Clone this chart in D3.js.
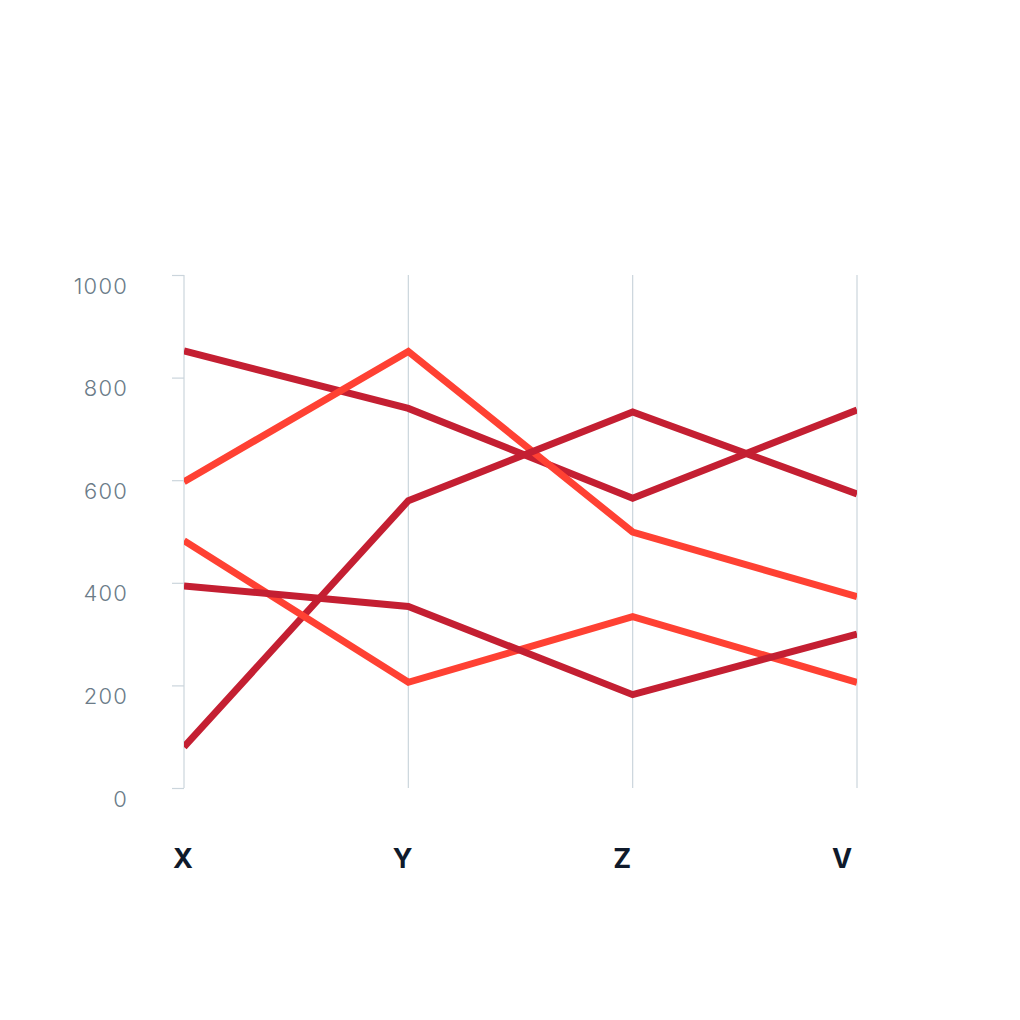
<!DOCTYPE html>
<html>
<head>
<meta charset="utf-8">
<script src="https://cdn.jsdelivr.net/npm/d3@7"></script>
<style>
  body { margin: 0; background: #fff; }
</style>
</head>
<body>
<div id="chart-container"></div>
<script>
// Data
const categories = ["X", "Y", "Z", "V"];
const yTicks = [0, 200, 400, 600, 800, 1000];
const seriesA = [852, 740, 565, 737];
const seriesB = [597, 851, 499, 373];
const seriesC = [80, 560, 733, 573];
const seriesD = [482, 206, 334, 206];
const seriesE = [394, 354, 182, 300];
const series = [
  { values: seriesA, color: "#c41f32" },
  { values: seriesB, color: "#ff4133" },
  { values: seriesC, color: "#c41f32" },
  { values: seriesD, color: "#ff4133" },
  { values: seriesE, color: "#c41f32" }
];

(() => {
  const width = 1020, height = 1020;
  const margin = { top: 275, right: 163, bottom: 232, left: 184 };
  const innerW = width - margin.left - margin.right;
  const innerH = height - margin.top - margin.bottom;

  const svg = d3.select("#chart-container")
    .append("svg")
    .attr("width", width)
    .attr("height", height)
    .append("g")
    .attr("transform", `translate(${margin.left},${margin.top})`);

  // scales
  const x = d3.scalePoint().domain(categories).range([0, innerW]);
  const y = d3.scaleLinear().domain([0, 1000]).range([innerH, 0]);
  // category labels sit a bit inside the axes
  const xLabel = d3.scalePoint().domain(categories).range([-1, innerW - 15]);

  // vertical axis lines
  svg.selectAll(".axis-line")
    .data(categories)
    .enter().append("line")
    .attr("class", "axis-line")
    .attr("x1", d => x(d)).attr("x2", d => x(d))
    .attr("y1", 0).attr("y2", innerH)
    .attr("stroke", "#cbd5dc")
    .attr("stroke-width", 1.2);

  // left axis with ticks
  const yAxis = d3.axisLeft(y)
    .tickValues(yTicks)
    .tickFormat(d3.format("d"))
    .tickSize(12)
    .tickPadding(44);

  const gy = svg.append("g").call(yAxis);
  gy.select(".domain").remove();
  gy.selectAll(".tick line").attr("stroke", "#cbd5dc").attr("stroke-width", 1.2);
  gy.selectAll(".tick text")
    .attr("dy", "0.82em")
    .attr("fill", "#6b7b88")
    .style("font-family", "Inter, 'Noto Sans', sans-serif")
    .style("font-weight", "300")
    .style("font-size", "22px")
    .style("letter-spacing", "1.2px");

  // clip lines to the axes band
  svg.append("clipPath").attr("id", "clip")
    .append("rect")
    .attr("x", 0).attr("y", -20)
    .attr("width", innerW).attr("height", innerH + 40);

  const line = d3.line()
    .x((d, i) => x(categories[i]))
    .y(d => y(d));

  svg.append("g").attr("clip-path", "url(#clip)")
    .selectAll(".series")
    .data(series)
    .enter().append("path")
    .attr("class", "series")
    .attr("d", d => line(d.values))
    .attr("fill", "none")
    .attr("stroke", d => d.color)
    .attr("stroke-width", 7)
    .attr("stroke-linejoin", "miter");

  // category labels
  svg.selectAll(".cat-label")
    .data(categories)
    .enter().append("text")
    .attr("class", "cat-label")
    .attr("x", d => xLabel(d))
    .attr("y", innerH + 80)
    .attr("text-anchor", "middle")
    .attr("fill", "#0f1a2b")
    .style("font-family", "Inter, 'Noto Sans', sans-serif")
    .style("font-weight", "bold")
    .style("font-size", "27px")
    .text(d => d);
})();
</script>
</body>
</html>
